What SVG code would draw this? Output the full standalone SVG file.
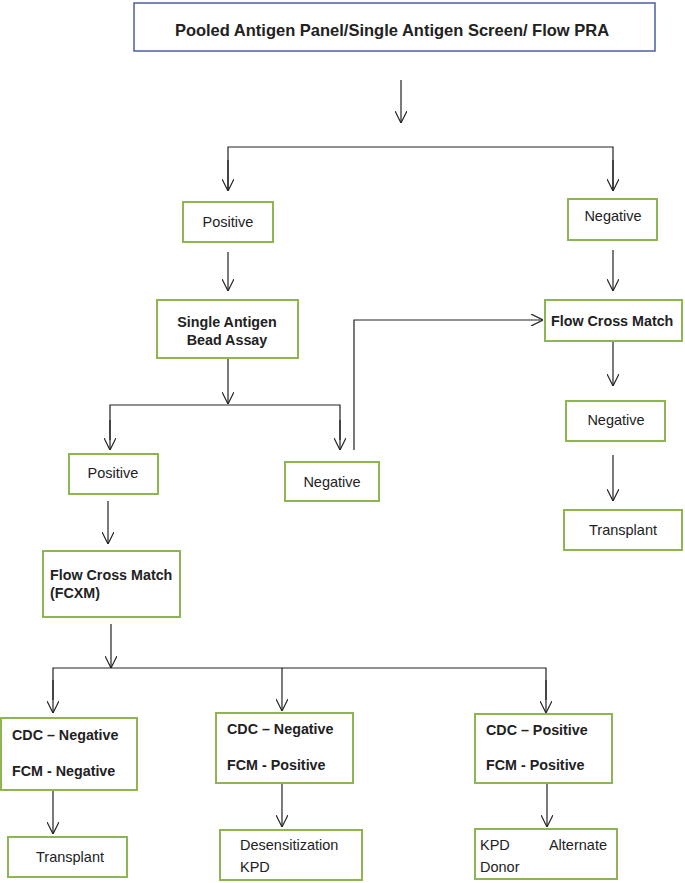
<svg xmlns="http://www.w3.org/2000/svg" width="685" height="883" viewBox="0 0 685 883">
<defs>
<marker id="arr" viewBox="0 0 12 12" refX="12" refY="6" markerWidth="12" markerHeight="12" markerUnits="userSpaceOnUse" orient="auto">
<path d="M0,0 L12,6 L0,12" fill="none" stroke="#222" stroke-width="1.2"/>
</marker>
<style>
.box{fill:#fff;stroke:#8db552;stroke-width:2}
.top{fill:#fff;stroke:#4b5ea3;stroke-width:1.5}
.t{font-family:"Liberation Sans",Arial,sans-serif;font-size:14.5px;fill:#222}
.b{font-family:"Liberation Sans",Arial,sans-serif;font-size:14.3px;font-weight:bold;fill:#222}
.c{text-anchor:middle}
.ln{fill:none;stroke:#222;stroke-width:1.2}
.ar{fill:none;stroke:#222;stroke-width:1.2;marker-end:url(#arr)}
</style>
</defs>
<rect width="685" height="883" fill="#fff"/>
<g id="connectors">
<line class="ar" x1="401" y1="80" x2="401" y2="123"/>
<polyline class="ln" points="228,190 228,147 613,147 613,190"/>
<line class="ar" x1="228" y1="160" x2="228" y2="191"/>
<line class="ar" x1="613" y1="160" x2="613" y2="191"/>
<line class="ar" x1="228" y1="252" x2="228" y2="291"/>
<line class="ar" x1="613" y1="250" x2="613" y2="291"/>
<line class="ar" x1="228" y1="358" x2="228" y2="404"/>
<polyline class="ln" points="110,440 110,405 340,405 340,440"/>
<line class="ar" x1="110" y1="420" x2="110" y2="450"/>
<line class="ar" x1="340" y1="420" x2="340" y2="450"/>
<polyline class="ar" points="354,450 354,320 543,320"/>
<line class="ar" x1="613" y1="341" x2="613" y2="386"/>
<line class="ar" x1="613" y1="455" x2="613" y2="501"/>
<line class="ar" x1="108" y1="501" x2="108" y2="544"/>
<line class="ar" x1="111" y1="624" x2="111" y2="668"/>
<polyline class="ln" points="53,700 53,668 546,668 546,700"/>
<line class="ar" x1="53" y1="680" x2="53" y2="713"/>
<line class="ar" x1="282" y1="668" x2="282" y2="711"/>
<line class="ar" x1="546" y1="680" x2="546" y2="713"/>
<line class="ar" x1="53" y1="790" x2="53" y2="834"/>
<line class="ar" x1="282" y1="783" x2="282" y2="827"/>
<line class="ar" x1="547" y1="783" x2="547" y2="827"/>
</g>
<g id="n-top"><rect class="top" x="134" y="3" width="521" height="48"/><text class="b c" x="392" y="36" style="font-size:16.5px">Pooled Antigen Panel/Single Antigen Screen/ Flow PRA</text></g>
<g id="n-pos1"><rect class="box" x="183" y="202" width="90" height="40"/><text class="t c" x="228" y="227">Positive</text></g>
<g id="n-neg1"><rect class="box" x="568" y="199" width="89" height="41"/><text class="t c" x="613" y="221">Negative</text></g>
<g id="n-saba"><rect class="box" x="157" y="300" width="141" height="58"/><text class="b c" x="227" y="327">Single Antigen</text><text class="b c" x="227" y="345">Bead Assay</text></g>
<g id="n-fcm1"><rect class="box" x="545" y="300" width="137" height="41"/><text class="b" x="551" y="326">Flow Cross Match</text></g>
<g id="n-pos2"><rect class="box" x="69" y="454" width="89" height="40"/><text class="t c" x="113" y="478">Positive</text></g>
<g id="n-neg2"><rect class="box" x="285" y="462" width="94" height="39"/><text class="t c" x="332" y="487">Negative</text></g>
<g id="n-neg3"><rect class="box" x="566" y="401" width="99" height="40"/><text class="t c" x="616" y="425">Negative</text></g>
<g id="n-tx1"><rect class="box" x="564" y="510" width="118" height="40"/><text class="t c" x="623" y="535">Transplant</text></g>
<g id="n-fcxm"><rect class="box" x="43" y="551" width="137" height="66"/><text class="b" x="50" y="580">Flow Cross Match</text><text class="b" x="50" y="598">(FCXM)</text></g>
<g id="n-nn"><rect class="box" x="1" y="718" width="136" height="72"/><text class="b" x="12" y="740">CDC – Negative</text><text class="b" x="12" y="776">FCM - Negative</text></g>
<g id="n-np"><rect class="box" x="216" y="713" width="137" height="70"/><text class="b" x="227" y="734">CDC – Negative</text><text class="b" x="227" y="770">FCM - Positive</text></g>
<g id="n-pp"><rect class="box" x="475" y="714" width="137" height="69"/><text class="b" x="486" y="735">CDC – Positive</text><text class="b" x="486" y="770">FCM - Positive</text></g>
<g id="n-tx2"><rect class="box" x="8" y="837" width="119" height="40"/><text class="t c" x="70" y="862">Transplant</text></g>
<g id="n-des"><rect class="box" x="220" y="830" width="142" height="50"/><text class="t" x="240" y="850">Desensitization</text><text class="t" x="240" y="872">KPD</text></g>
<g id="n-kpd"><rect class="box" x="475" y="829" width="142" height="50"/><text class="t" x="480" y="850">KPD</text><text class="t" x="607" y="850" text-anchor="end">Alternate</text><text class="t" x="480" y="872">Donor</text></g>
</svg>
